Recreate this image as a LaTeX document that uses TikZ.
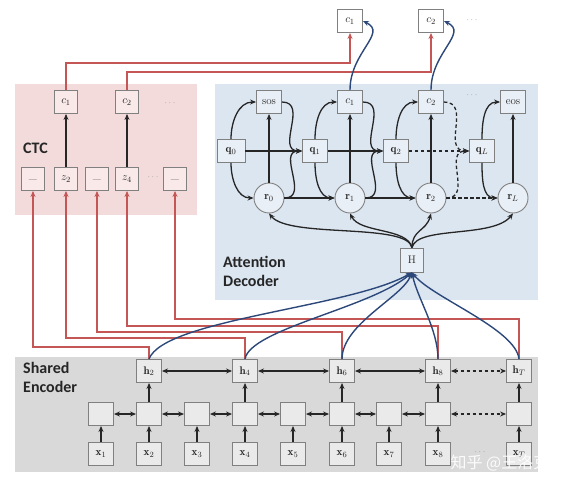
\documentclass[tikz,border=0pt]{standalone}
\usepackage{fontspec}
\newfontfamily\lblfont{Carlito}
\newfontfamily\cjkfont{Noto Sans CJK SC}
\usetikzlibrary{arrows.meta}
\definecolor{ctcfill}{RGB}{244,219,219}
\definecolor{decfill}{RGB}{220,230,241}
\definecolor{encfill}{RGB}{217,217,217}
\definecolor{ctcbox}{RGB}{249,233,233}
\definecolor{decbox}{RGB}{233,239,246}
\definecolor{encbox}{RGB}{234,234,234}
\definecolor{redln}{RGB}{196,86,86}
\definecolor{blueln}{RGB}{44,72,122}
\definecolor{boxdraw}{RGB}{128,128,128}
\begin{document}
\begin{tikzpicture}[x=1pt,y=1pt,
  box/.style={draw=boxdraw, line width=0.9pt, minimum width=25pt, minimum height=23pt,
    inner sep=0pt, font=\fontsize{11}{12}\selectfont, text=black!85},
  tbox/.style={box, fill=white},
  cbox/.style={box, fill=ctcbox, minimum width=23pt},
  dbox/.style={box, fill=decbox},
  ebox/.style={box, fill=encbox},
  rnode/.style={circle, draw=boxdraw, line width=0.9pt, fill=decbox, minimum size=30pt,
    inner sep=0pt, font=\fontsize{11}{12}\selectfont, text=black!85},
  dots/.style={text=black!45, font=\fontsize{9}{10}\selectfont, inner sep=0pt},
  lbl/.style={font=\lblfont\bfseries\fontsize{16}{19.5}\selectfont, text=black!85, inner sep=0pt, align=left},
  blk/.style={-{Stealth[length=6pt,width=5pt]}, line width=1.3pt, black!85},
  blkd/.style={blk, dash pattern=on 3.5pt off 2.5pt},
  dbl/.style={{Stealth[length=6pt,width=5pt]}-{Stealth[length=6pt,width=5pt]}, line width=1.3pt, black!85},
  dbld/.style={dbl, dash pattern=on 3.5pt off 2.5pt},
  redarr/.style={-{Stealth[length=6pt,width=5pt]}, line width=1.6pt, color=redln},
  bluearr/.style={-{Stealth[length=6pt,width=5pt]}, line width=1.4pt, color=blueln}
]
\useasboundingbox (0,0) rectangle (567,-487);
\fill[white] (0,0) rectangle (567,-487);

% regions
\fill[ctcfill] (15,-84) rectangle (197,-215);
\fill[decfill] (215,-84) rectangle (538,-300);
\fill[encfill] (15,-357) rectangle (538,-472);

% top outputs
\node[tbox] (tc1) at (350,-21) {$c_1$};
\node[tbox] (tc2) at (431,-21) {$c_2$};
\node[dots] (tdots) at (472,-20) {$\cdots$};

% CTC
\node[lbl, anchor=west] (ctclbl) at (23,-148) {CTC};
\node[cbox] (cc1) at (66,-102) {$c_1$};
\node[cbox] (cc2) at (127,-102) {$c_2$};
\node[dots] (cdots) at (170,-103) {$\cdots$};
\node[cbox] (b1) at (33,-179) {\_};
\node[cbox] (z2) at (66,-179) {$z_2$};
\node[cbox] (b3) at (97,-179) {\_};
\node[cbox] (z4) at (127,-179) {$z_4$};
\node[dots] (zdots) at (153,-177) {$\cdots$};
\node[cbox] (b5) at (175,-179) {\_};
\draw[blk] (z2.north) -- (cc1.south);
\draw[blk] (z4.north) -- (cc2.south);

% Attention decoder
\node[lbl, anchor=north west] (declbl) at (223,-256) {Attention\\Decoder};
\node[dbox] (sos) at (269,-102) {sos};
\node[dbox] (dc1) at (350,-102) {$c_1$};
\node[dbox] (dc2) at (431,-102) {$c_2$};
\node[dbox] (eos) at (513,-102) {eos};
\node[dots] (ddots) at (472,-95) {$\cdots$};
\node[dbox, minimum width=28pt] (q0) at (231,-151) {$\mathbf{q}_0$};
\node[dbox] (q1) at (315,-151) {$\mathbf{q}_1$};
\node[dbox] (q2) at (396,-151) {$\mathbf{q}_2$};
\node[dbox] (qL) at (482,-151) {$\mathbf{q}_L$};
\node[rnode] (r0) at (269,-198) {$\mathbf{r}_0$};
\node[rnode] (r1) at (350,-198) {$\mathbf{r}_1$};
\node[rnode] (r2) at (431,-198) {$\mathbf{r}_2$};
\node[rnode] (rL) at (513,-198) {$\mathbf{r}_L$};
\node[dbox, minimum width=23pt, minimum height=24pt] (H) at (412,-260) {H};

\draw[blk] (q0.east) -- (q1.west);
\draw[blk] (q1.east) -- (q2.west);
\draw[blkd] (q2.east) -- (qL.west);
\draw[blk] (r0.east) -- (r1.west);
\draw[blk] (r1.east) -- (r2.west);
\draw[blkd] (r2.east) -- (rL.west);
\draw[blk] (r0.north) -- (sos.south);
\draw[blk] (r1.north) -- (dc1.south);
\draw[blk] (r2.north) -- (dc2.south);
\draw[blk] (rL.north) -- (eos.south);
\draw[blk] (q0.north) to[out=90,in=180] (sos.west);
\draw[blk] (q0.south) to[out=-90,in=180] (r0.west);
\draw[blk] (q1.north) to[out=90,in=180] (dc1.west);
\draw[blk] (q1.south) to[out=-90,in=180] (r1.west);
\draw[blk] (q2.north) to[out=90,in=180] (dc2.west);
\draw[blk] (q2.south) to[out=-90,in=180] (r2.west);
\draw[blk] (qL.north) to[out=90,in=180] (eos.west);
\draw[blk] (qL.south) to[out=-90,in=180] (rL.west);
\draw[blk] (sos.east) to[out=0,in=180,looseness=1.3] (q1.west);
\draw[blk] (r0.east) to[out=0,in=180,looseness=1.3] (q1.west);
\draw[blk] (dc1.east) to[out=0,in=180,looseness=1.3] (q2.west);
\draw[blk] (r1.east) to[out=0,in=180,looseness=1.3] (q2.west);
\draw[blkd] (dc2.east) to[out=0,in=180,looseness=1.3] (qL.west);
\draw[blkd] (r2.east) to[out=0,in=180,looseness=1.3] (qL.west);
\draw[blk] (H.north) .. controls +(-5,25) and +(20,-25) .. (r0.south);
\draw[blk] (H.north) .. controls +(-5,20) and +(10,-20) .. (r1.south);
\draw[blk] (H.north) .. controls +(0,18) and +(-5,-18) .. (r2.south);
\draw[blk] (H.north) .. controls +(5,22) and +(-20,-25) .. (rL.south);

% Shared encoder
\node[lbl, anchor=north west] (enclbl) at (23,-362) {Shared\\Encoder};
\foreach \n/\x in {1/101,2/149,3/197,4/245,5/293,6/342,7/389,8/438,T/519} {
  \node[ebox] (m\n) at (\x,-414) {};
  \node[ebox] (x\n) at (\x,-454) {$\mathbf{x}_\n$};
  \draw[blk] (x\n.north) -- (m\n.south);
}
\node[dots] (edots) at (480,-452) {$\cdots$};
\foreach \n in {2,4,6,8,T} {
  \node[ebox] (h\n) at (m\n |- 0,-371) {$\mathbf{h}_\n$};
  \draw[blk] (m\n.north) -- (h\n.south);
}
\foreach \a/\b in {1/2,2/3,3/4,4/5,5/6,6/7,7/8} {
  \draw[dbl] (m\a.east) -- (m\b.west);
}
\draw[dbld] (m8.east) -- (mT.west);
\draw[dbl] (h2.east) -- (h4.west);
\draw[dbl] (h4.east) -- (h6.west);
\draw[dbl] (h6.east) -- (h8.west);
\draw[dbld] (h8.east) -- (hT.west);

% red connectors (encoder -> CTC, CTC -> outputs)
\coordinate (k1) at (149,-347);
\coordinate (k2) at (245,-338);
\coordinate (k3) at (342,-332);
\coordinate (k4) at (438,-326);
\coordinate (k5) at (519,-319);
\coordinate (t1) at (66,-63);
\coordinate (t2) at (127,-72);
\draw[redarr] (h2.north) -- (k1) -| (b1.south);
\draw[redarr] (h4.north) -- (k2) -| (z2.south);
\draw[redarr] (h6.north) -- (k3) -| (b3.south);
\draw[redarr] (h8.north) -- (k4) -| (z4.south);
\draw[redarr] (hT.north) -- (k5) -| (b5.south);
\draw[redarr] (cc1.north) -- (t1) -| (tc1.south);
\draw[redarr] (cc2.north) -- (t2) -| (tc2.south);

% blue connectors (encoder -> H, decoder -> outputs)
\draw[bluearr] (h2.north) .. controls +(15,40) and +(-60,-35) .. (H.south);
\draw[bluearr] (h4.north) .. controls +(5,30) and +(-40,-35) .. (H.south);
\draw[bluearr] (h6.north) .. controls +(0,35) and +(-10,-25) .. (H.south);
\draw[bluearr] (h8.north) .. controls +(0,30) and +(5,-25) .. (H.south);
\draw[bluearr] (hT.north) .. controls +(-3,30) and +(20,-25) .. (H.south);
\draw[bluearr] (dc1.north) .. controls +(0,38) and +(25,-12) .. (tc1.east);
\draw[bluearr] (dc2.north) .. controls +(0,38) and +(25,-12) .. (tc2.east);

% watermark
\node[text=white, opacity=0.9, font=\cjkfont\fontsize{16}{18}\selectfont, inner sep=0pt] (wm) at (500,-463) {知乎 @王洛克};
\end{tikzpicture}
\end{document}
